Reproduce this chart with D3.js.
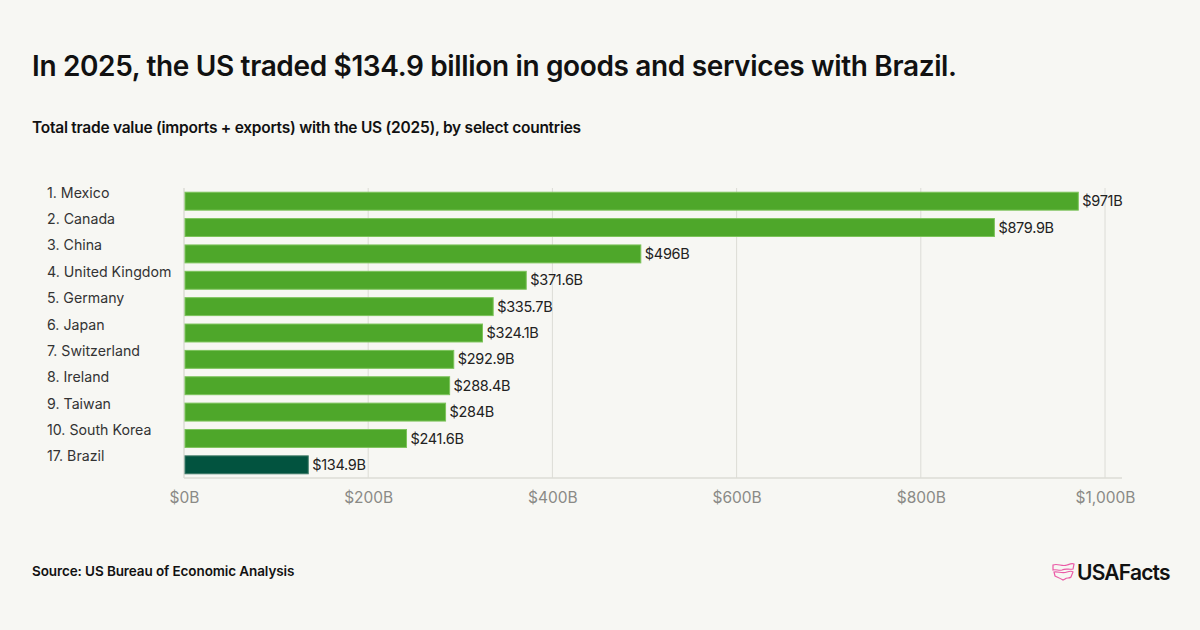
<!DOCTYPE html>
<html>
<head>
<meta charset="utf-8">
<script src="https://cdn.jsdelivr.net/npm/d3@7"></script>
<style>
  html, body { margin: 0; padding: 0; background: #f7f7f3; }
  svg { display: block; font-family: Inter, "Liberation Sans", sans-serif; }
</style>
</head>
<body>
<svg id="chart" width="1200" height="630"></svg>
<script>
// data
var countries = ["1. Mexico", "2. Canada", "3. China", "4. United Kingdom", "5. Germany",
                 "6. Japan", "7. Switzerland", "8. Ireland", "9. Taiwan", "10. South Korea", "17. Brazil"];
var tradeValues = [971, 879.9, 496, 371.6, 335.7, 324.1, 292.9, 288.4, 284, 241.6, 134.9];
var valueLabels = ["$971B", "$879.9B", "$496B", "$371.6B", "$335.7B", "$324.1B",
                   "$292.9B", "$288.4B", "$284B", "$241.6B", "$134.9B"];
var xTicks = [0, 200, 400, 600, 800, 1000];
var xTickLabels = ["$0B", "$200B", "$400B", "$600B", "$800B", "$1,000B"];
var highlight = "17. Brazil";

var GREEN = "#4ea72a", DARK = "#02533f", GRID = "#dcdcd6";

var svg = d3.select("#chart");
var rows = countries.map(function(c, i) { return { name: c, value: tradeValues[i], label: valueLabels[i] }; });

var plot = { left: 184, right: 1122, top: 188, bottom: 478 };

var x = d3.scaleLinear().domain([0, 1000]).range([plot.left, 1105]);
var y = d3.scaleBand().domain(countries).range([plot.top, plot.bottom])
          .paddingInner(0.32).paddingOuter(0.16);

// titles
svg.append("text").attr("x", 32).attr("y", 76)
    .style("font-size", "28px").style("font-weight", 600).style("fill", "#111")
    .style("letter-spacing", "-0.35px")
    .text("In 2025, the US traded $134.9 billion in goods and services with Brazil.");
svg.append("text").attr("x", 32).attr("y", 133)
    .style("font-size", "15.5px").style("font-weight", 600).style("fill", "#111")
    .style("letter-spacing", "-0.25px")
    .text("Total trade value (imports + exports) with the US (2025), by select countries");

// grid lines
var grid = svg.append("g");
grid.selectAll("line.v").data(xTicks.slice(1)).enter().append("line")
    .attr("x1", function(d) { return x(d); }).attr("x2", function(d) { return x(d); })
    .attr("y1", plot.top).attr("y2", plot.bottom)
    .style("stroke", GRID).style("stroke-width", 1);
grid.append("line").attr("x1", plot.left).attr("x2", plot.left)
    .attr("y1", plot.top).attr("y2", plot.bottom)
    .style("stroke", GRID).style("stroke-width", 1.5);
grid.append("line").attr("x1", plot.left).attr("x2", plot.right)
    .attr("y1", plot.bottom).attr("y2", plot.bottom)
    .style("stroke", GRID).style("stroke-width", 1.5);

// x axis labels via d3 axis
var xAxis = d3.axisBottom(x).tickValues(xTicks)
    .tickFormat(function(d, i) { return xTickLabels[i]; })
    .tickSize(0).tickPadding(14);
var ax = svg.append("g").attr("transform", "translate(0," + plot.bottom + ")").call(xAxis);
ax.select(".domain").remove();
ax.selectAll("text").style("font-size", "15.5px").style("fill", "#8a8a86")
    .style("font-family", "Inter, 'Liberation Sans', sans-serif");

// bars
svg.append("g").selectAll("rect").data(rows).enter().append("rect")
    .attr("x", x(0) + 1)
    .attr("y", function(d) { return y(d.name); })
    .attr("width", function(d) { return x(d.value) - x(0) - 1; })
    .attr("height", y.bandwidth())
    .style("fill", function(d) { return d.name === highlight ? DARK : GREEN; })
    .style("stroke", function(d) { return d.name === highlight ? "#3f7a68" : "#7cc35a"; })
    .style("stroke-width", 1);

// value labels
svg.append("g").selectAll("text").data(rows).enter().append("text")
    .attr("x", function(d) { return x(d.value) + 4; })
    .attr("y", function(d) { return y(d.name) + y.bandwidth() / 2; })
    .attr("dy", "0.35em")
    .style("font-size", "14.5px").style("fill", "#222")
    .style("letter-spacing", "-0.3px")
    .text(function(d) { return d.label; });

// country labels
svg.append("g").selectAll("text").data(rows).enter().append("text")
    .attr("x", 47)
    .attr("y", function(d) { return y(d.name) + 5.5; })
    .style("font-size", "14.2px").style("fill", "#333")
    .text(function(d) { return d.name; });

// source
svg.append("text").attr("x", 32).attr("y", 576)
    .style("font-size", "13.5px").style("font-weight", 600).style("fill", "#111")
    .style("letter-spacing", "-0.1px")
    .text("Source: US Bureau of Economic Analysis");

// logo
var logo = svg.append("g").attr("transform", "translate(1052,562)");
logo.append("path")
    .attr("d", "M1,3 C6,1 10,5 15,3 C18,2 20,1 22,2 L21,7 C17,8 14,6 10,8 C7,9 4,7 1,8 Z")
    .style("fill", "none").style("stroke", "#ea5aa6").style("stroke-width", 1.2);
logo.append("path")
    .attr("d", "M2,10 C6,9 10,12 15,10 C18,9 20,9 21,10 L19,15 C17,17 15,15 13,17 L11,18 C8,16 5,15 3,14 Z")
    .style("fill", "none").style("stroke", "#ea5aa6").style("stroke-width", 1.2);
svg.append("text").attr("x", 1077).attr("y", 580)
    .style("font-size", "21px").style("font-weight", 600).style("fill", "#111")
    .style("letter-spacing", "-0.8px")
    .text("USAFacts");
</script>
</body>
</html>
